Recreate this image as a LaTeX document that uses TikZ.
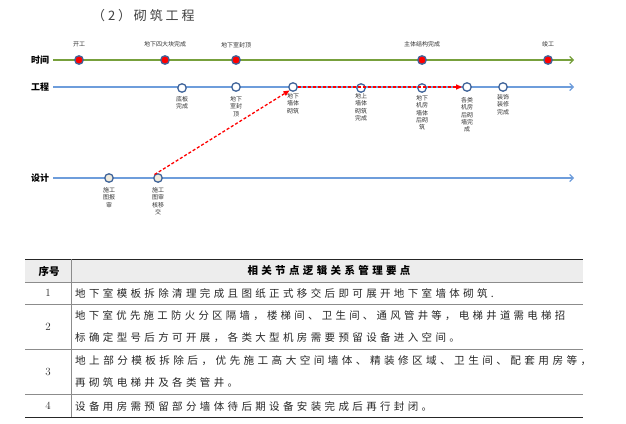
\documentclass[tikz,border=0pt]{standalone}
\usepackage{fontspec}
\usepackage{graphicx}
\newfontfamily\cjk{Noto Sans CJK SC}
\newfontfamily\cjkt[LetterSpace=32]{Noto Sans CJK SC}
\newfontfamily\cjktitle[LetterSpace=22]{Noto Sans CJK SC}
\usetikzlibrary{arrows.meta}
\definecolor{tgreen}{HTML}{77A03C}
\definecolor{tblue}{HTML}{6E9DDB}
\definecolor{dotedge}{HTML}{41659A}
\definecolor{beige}{HTML}{F0EBDD}
\definecolor{hdrgray}{HTML}{EDEDED}
\definecolor{rulegray}{HTML}{8C8C8C}
\tikzset{
  axislbl/.style={font=\cjk\bfseries\fontsize{9}{10}\selectfont, anchor=center},
  timeline/.style={tgreen, line width=1.4pt, -{Straight Barb[length=3.5pt,width=7pt,line width=1.2pt]}},
  workline/.style={tblue, line width=1.4pt, -{Straight Barb[length=3.5pt,width=7pt,line width=1.2pt]}},
  reddash/.style={red, line width=1.3pt, dash pattern=on 3pt off 2pt, -{Triangle[length=6pt,width=5pt]}},
  tdot/.style={circle, minimum size=8.5pt, inner sep=0pt, draw=dotedge, line width=1.3pt, fill=red},
  wdot/.style={circle, minimum size=8.5pt, inner sep=0pt, draw=dotedge, line width=1.3pt, fill=white},
  ddot/.style={circle, minimum size=8.5pt, inner sep=0pt, draw=dotedge, line width=1.3pt, fill=beige},
  toplbl/.style={font=\cjk\fontsize{6}{7}\selectfont, text=black!80, anchor=center},
  botlbl/.style={font=\cjk\fontsize{6}{7.4}\selectfont, text=black!80, align=center, anchor=north, inner sep=0pt},
  celltext/.style={font=\cjkt\fontsize{10.5}{12}\selectfont, text=black!85, anchor=west, inner sep=0pt},
  numtext/.style={font=\fontsize{11}{12}\selectfont, text=black!85, anchor=center, inner sep=0pt},
  hdrtext/.style={font=\cjkt\bfseries\fontsize{10.5}{12}\selectfont, anchor=center, inner sep=0pt},
  hdrtextb/.style={font=\cjk\bfseries\fontsize{10.5}{12}\selectfont, anchor=center, inner sep=0pt},
  heavyrule/.style={black!85, line width=0.9pt},
  lightrule/.style={rulegray, line width=0.6pt}
}
\begin{document}
\begin{tikzpicture}[x=1pt,y=-1pt]
\useasboundingbox (0,0) rectangle (626,423);
% title
\node[font=\cjktitle\fontsize{13}{14}\selectfont, text=black!75, anchor=west, inner sep=0pt] (title) at (92,16) {（2）砌筑工程};
% axis labels
\node[axislbl] (lt) at (40,60) {时间};
\node[axislbl] (lw) at (40,87) {工程};
\node[axislbl] (ld) at (40,178) {设计};
% line endpoints
\coordinate (ts) at (53,60);  \coordinate (te) at (574,60);
\coordinate (ws) at (53,87);  \coordinate (we) at (574,87);
\coordinate (ds) at (53,178); \coordinate (de) at (574,178);
\draw[timeline] (ts) -- (te);
\draw[workline] (ws) -- (we);
\draw[workline] (ds) -- (de);
% time dots
\node[tdot] (t1) at (79,60) {};
\node[tdot] (t2) at (165,60) {};
\node[tdot] (t3) at (236,60) {};
\node[tdot] (t4) at (422,60) {};
\node[tdot] (t5) at (548,60) {};
\node[toplbl] (t1l) at (79,44) {开工};
\node[toplbl] (t2l) at (165,44) {地下四大块完成};
\node[toplbl] (t3l) at (236,45) {地下室封顶};
\node[toplbl] (t4l) at (422,44) {主体结构完成};
\node[toplbl] (t5l) at (548,44) {竣工};
% work dots
\node[wdot] (w1) at (182,88) {};
\node[wdot] (w2) at (236,87) {};
\node[wdot] (w3) at (293,87) {};
\node[wdot] (w4) at (361,88) {};
\node[wdot] (w5) at (422,88) {};
\node[wdot] (w6) at (467,87) {};
\node[wdot] (w7) at (503,87) {};
\node[botlbl] (w1l) at (182,96) {底板\\完成};
\node[botlbl] (w2l) at (236,96) {地下\\室封\\顶};
\node[botlbl] (w3l) at (293,93) {地下\\墙体\\砌筑};
\node[botlbl] (w4l) at (361,93) {地上\\墙体\\砌筑\\完成};
\node[botlbl] (w5l) at (422,95) {地下\\机房\\墙体\\后砌\\筑};
\node[botlbl] (w6l) at (467,97) {各类\\机房\\后砌\\墙完\\成};
\node[botlbl] (w7l) at (503,94) {装饰\\装修\\完成};
% design dots
\node[ddot] (d1) at (109,178) {};
\node[ddot] (d2) at (158,178) {};
\node[botlbl] (d1l) at (109,187) {施工\\图报\\审};
\node[botlbl] (d2l) at (158,187) {施工\\图审\\核移\\交};
% red dependencies
\draw[reddash] (d2.north west) -- (w3.south west);
\draw[reddash] (w3.east) -- (w6.west);
% table
\fill[hdrgray] (25,259) rectangle (583,282);
\draw[heavyrule] (25,259) -- (583,259);
\draw[lightrule] (25,282) -- (583,282);
\draw[lightrule] (25,304) -- (583,304);
\draw[lightrule] (25,349) -- (583,349);
\draw[lightrule] (25,394) -- (583,394);
\draw[heavyrule] (25,417) -- (583,417);
\draw[lightrule] (71,259) -- (71,417);
\node[hdrtextb] (h1) at (49,271) {序号};
\node[hdrtext] (h2) at (329,271) {相关节点逻辑关系管理要点};
\node[numtext] (n1) at (48,293) {1};
\node[numtext] (n2) at (48,327) {2};
\node[numtext] (n3) at (48,372) {3};
\node[numtext] (n4) at (48,406) {4};
\node[celltext] (r1) at (75,293) {地下室模板拆除清理完成且图纸正式移交后即可展开地下室墙体砌筑.};
\node[celltext] (r2a) at (75,316) {\resizebox{490pt}{\height}{地下室优先施工防火分区隔墙，楼梯间、卫生间、通风管井等，电梯井道需电梯招}};
\node[celltext] (r2b) at (75,338) {标确定型号后方可开展，各类大型机房需要预留设备进入空间。};
\node[celltext] (r3a) at (75,361) {\resizebox{516pt}{\height}{地上部分模板拆除后，优先施工高大空间墙体、精装修区域、卫生间、配套用房等，}};
\node[celltext] (r3b) at (75,383) {再砌筑电梯井及各类管井。};
\node[celltext] (r4) at (75,406) {设备用房需预留部分墙体待后期设备安装完成后再行封闭。};
\end{tikzpicture}
\end{document}
